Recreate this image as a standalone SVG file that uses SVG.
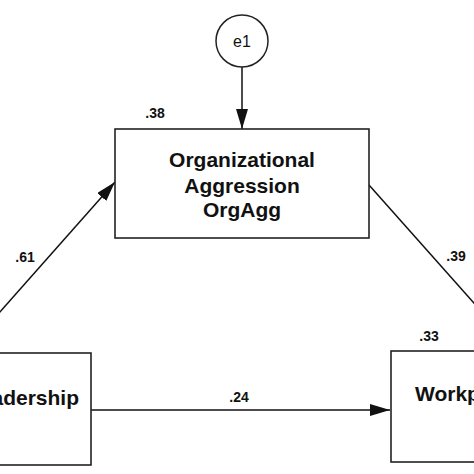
<svg xmlns="http://www.w3.org/2000/svg" width="474" height="474" viewBox="0 0 474 474">
<defs>
<style>
.box{fill:#fff;stroke:#222;stroke-width:1.6}
.ln{stroke:#111;stroke-width:1.5;fill:none}
.t{font-family:"Liberation Sans",Arial,sans-serif;font-weight:bold;font-size:21px;fill:#111;text-anchor:middle}
.lb{font-family:"Liberation Sans",Arial,sans-serif;font-weight:bold;font-size:14px;fill:#111;text-anchor:middle}
.e{font-family:"Liberation Sans",Arial,sans-serif;font-size:16px;fill:#111;text-anchor:middle}
</style>
<marker id="ah" markerWidth="20" markerHeight="12" refX="20" refY="6" orient="auto" markerUnits="userSpaceOnUse">
<path d="M0,0 L20,6 L0,12 Z" fill="#111"/>
</marker>
</defs>
<rect width="474" height="474" fill="#fff"/>
<g id="connectors">
<line class="ln" x1="242" y1="67" x2="242" y2="129" marker-end="url(#ah)"/>
<line class="ln" x1="-8" y1="321" x2="115" y2="182" marker-end="url(#ah)"/>
<line class="ln" x1="369" y1="185" x2="480" y2="310"/>
<line class="ln" x1="91" y1="410" x2="390" y2="410" marker-end="url(#ah)"/>
<text class="lb" x="25" y="262">.61</text>
<text class="lb" x="456" y="261">.39</text>
<text class="lb" x="239" y="402">.24</text>
</g>
<g id="e1">
<circle cx="242" cy="41" r="26" fill="#fff" stroke="#222" stroke-width="1.5"/>
<text class="e" x="242" y="47">e1</text>
</g>
<g id="orgagg">
<rect class="box" x="115" y="129" width="254" height="109"/>
<text class="t" x="242" y="167">Organizational</text>
<text class="t" x="242" y="193">Aggression</text>
<text class="t" x="242" y="217">OrgAgg</text>
<text class="lb" x="155" y="118">.38</text>
</g>
<g id="leadership">
<rect class="box" x="-120" y="353" width="211" height="112"/>
<text class="t" x="79" y="405" style="text-anchor:end">Leadership</text>
</g>
<g id="workplace">
<rect class="box" x="391" y="351" width="200" height="111"/>
<text class="t" x="415" y="401" style="text-anchor:start">Workplace</text>
<text class="lb" x="429" y="341">.33</text>
</g>
</svg>
